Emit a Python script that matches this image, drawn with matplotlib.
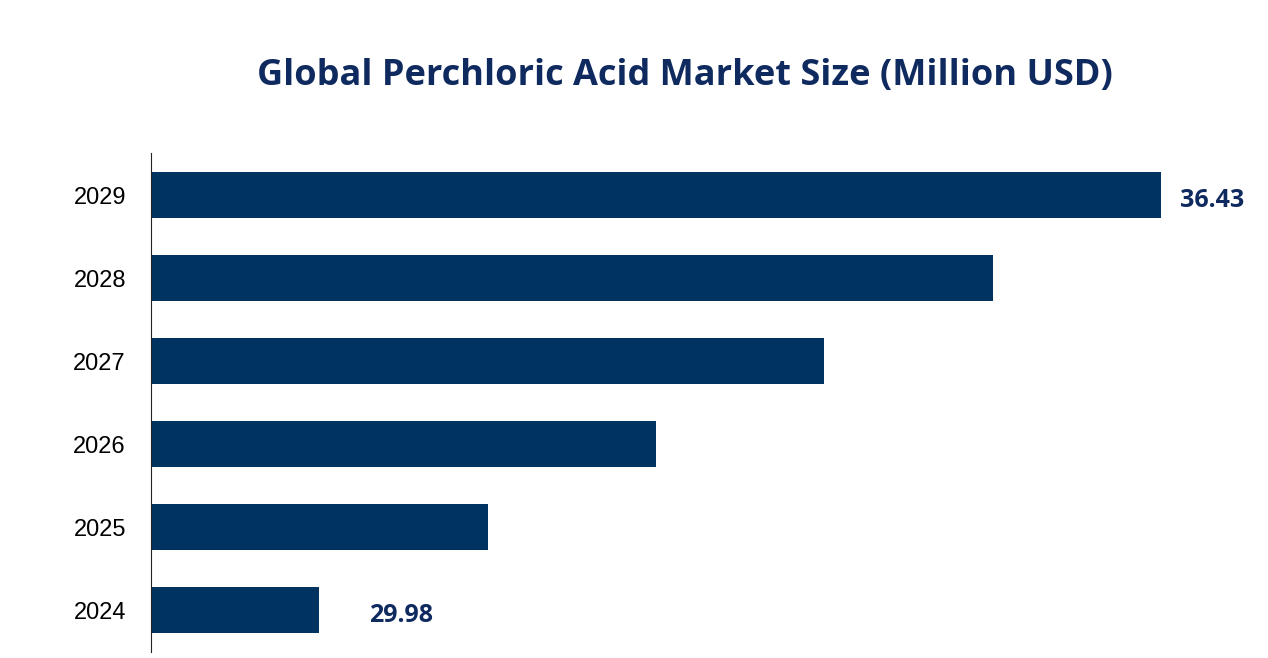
import matplotlib.pyplot as plt

years = ["2024", "2025", "2026", "2027", "2028", "2029"]
values = [29.98, 31.27, 32.56, 33.85, 35.14, 36.43]
shown_labels = {0: "29.98", 5: "36.43"}

bar_color = "#00335f"
text_color = "#0f2a5f"

fig = plt.figure(figsize=(12.68, 6.58), dpi=100)
ax = fig.add_axes([0.119, 0.009, 0.881, 0.758])

ax.barh(range(len(years)), values, height=0.55, color=bar_color)
ax.set_xlim(28.69, 37.25)
ax.set_ylim(-0.506, len(years) - 0.494)
ax.set_yticks(range(len(years)))
ax.set_yticklabels(years, fontsize=17, family="Liberation Sans")
ax.tick_params(axis="y", length=0, pad=18)
ax.set_xticks([])
for side in ["top", "right", "bottom"]:
    ax.spines[side].set_visible(False)
ax.spines["left"].set_color("#222222")

for i, text in shown_labels.items():
    offset = 36 if i == 0 else 14
    ax.annotate(text, (values[i], i), xytext=(offset, -4), textcoords="offset points",
                va="center", ha="left", fontsize=18, fontweight="bold",
                family="Open Sans", color=text_color)

fig.text(0.54, 0.885, "Global Perchloric Acid Market Size (Million USD)",
         ha="center", va="center", fontsize=26, fontweight="bold",
         family="Open Sans", color=text_color)

fig.savefig("out.png", dpi=100)
